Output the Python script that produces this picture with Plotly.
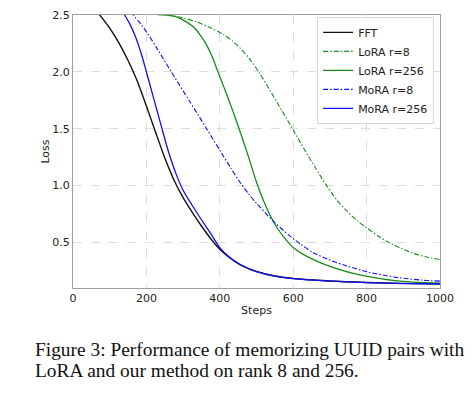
import plotly.graph_objects as go

# Data
fft_steps = [50, 73, 100, 125, 150, 163, 175, 200, 225, 250, 275, 300, 325, 350, 375, 400, 425, 450, 475, 500, 550, 600, 700, 800, 900, 1000]
fft_loss = [2.6, 2.5, 2.385, 2.255, 2.10, 2.01, 1.92, 1.70, 1.47, 1.245, 1.05, 0.895, 0.765, 0.645, 0.535, 0.44, 0.37, 0.315, 0.275, 0.245, 0.205, 0.184, 0.162, 0.149, 0.141, 0.137]

lora8_steps = [200, 230, 255, 300, 336, 370, 409, 435, 455, 482, 509, 540, 570, 600, 630, 660, 691, 720, 745, 775, 802, 835, 864, 900, 927, 960, 1000]
lora8_loss = [2.51, 2.503, 2.5, 2.475, 2.44, 2.395, 2.33, 2.27, 2.21, 2.11, 1.985, 1.82, 1.655, 1.49, 1.32, 1.16, 1.0, 0.87, 0.78, 0.69, 0.625, 0.55, 0.495, 0.44, 0.405, 0.375, 0.35]

lora256_steps = [200, 230, 255, 280, 309, 330, 345, 360, 377, 395, 410, 427, 445, 460, 480, 500, 520, 540, 560, 580, 600, 625, 655, 700, 745, 802, 882, 1000]
lora256_loss = [2.51, 2.505, 2.5, 2.485, 2.44, 2.39, 2.33, 2.26, 2.15, 2.0, 1.875, 1.73, 1.57, 1.43, 1.235, 1.03, 0.86, 0.72, 0.61, 0.525, 0.456, 0.40, 0.35, 0.29, 0.245, 0.202, 0.163, 0.142]

mora8_steps = [140, 164, 185, 205, 230, 264, 318, 364, 402, 430, 455, 478, 500, 545, 590, 620, 655, 700, 745, 802, 882, 950, 1000]
mora8_loss = [2.6, 2.5, 2.42, 2.33, 2.2, 2.02, 1.74, 1.5, 1.3, 1.155, 1.03, 0.93, 0.845, 0.69, 0.56, 0.485, 0.41, 0.345, 0.295, 0.242, 0.193, 0.17, 0.16]

mora256_steps = [120, 141, 155, 170, 185, 200, 220, 240, 260, 280, 300, 325, 350, 375, 400, 425, 450, 475, 500, 550, 600, 700, 800, 900, 1000]
mora256_loss = [2.64, 2.5, 2.42, 2.31, 2.17, 2.0, 1.765, 1.53, 1.3, 1.11, 0.96, 0.825, 0.70, 0.58, 0.455, 0.375, 0.318, 0.276, 0.245, 0.204, 0.182, 0.16, 0.147, 0.139, 0.135]

x_ticks = [0, 200, 400, 600, 800, 1000]
y_ticks = [0.5, 1.0, 1.5, 2.0, 2.5]

caption_lines = ["Figure 3: Performance of memorizing UUID pairs with",
                 "LoRA and our method on rank 8 and 256."]

DASHDOT = "5px,2px,1.5px,2px"
fig = go.Figure()
fig.add_trace(go.Scatter(x=fft_steps, y=fft_loss, mode="lines", name="FFT",
                         line=dict(color="#111111", width=1.4, shape="spline", smoothing=0.8)))
fig.add_trace(go.Scatter(x=lora8_steps, y=lora8_loss, mode="lines", name="LoRA r=8",
                         line=dict(color="#1a8a1a", width=1.1, dash=DASHDOT, shape="spline", smoothing=0.8)))
fig.add_trace(go.Scatter(x=lora256_steps, y=lora256_loss, mode="lines", name="LoRA r=256",
                         line=dict(color="#1a8a1a", width=1.3, shape="spline", smoothing=0.8)))
fig.add_trace(go.Scatter(x=mora8_steps, y=mora8_loss, mode="lines", name="MoRA r=8",
                         line=dict(color="#1010ee", width=1.1, dash=DASHDOT, shape="spline", smoothing=0.8)))
fig.add_trace(go.Scatter(x=mora256_steps, y=mora256_loss, mode="lines", name="MoRA r=256",
                         line=dict(color="#1010ee", width=1.3, shape="spline", smoothing=0.8)))

axis_common = dict(showline=True, linecolor="#a0a0a0", linewidth=1, mirror=True,
                   showgrid=True, gridcolor="#dcdcdc", griddash="dash", gridwidth=1,
                   zeroline=False, ticks="", tickfont=dict(family="DejaVu Sans", size=11, color="#222"))

fig.update_xaxes(range=[0, 1000], tickvals=x_ticks, ticktext=[str(v) for v in x_ticks],
                 title=dict(text="Steps", font=dict(family="DejaVu Sans", size=11, color="#222"), standoff=2),
                 **axis_common)
fig.update_yaxes(range=[0.1, 2.5], tickvals=y_ticks, ticktext=[f"{v:.1f}" for v in y_ticks],
                 title=dict(text="Loss", font=dict(family="DejaVu Sans", size=11, color="#222"), standoff=0),
                 **axis_common)

# page body has an 8px margin, so the figure is sized/offset to compensate
fig.update_layout(
    width=466, height=390,
    margin=dict(l=65, r=34, t=7, b=110, autoexpand=False),
    plot_bgcolor="white", paper_bgcolor="white",
    showlegend=True,
    legend=dict(x=0.984, y=0.993, xanchor="right", yanchor="top",
                bgcolor="rgba(255,255,255,0.85)", bordercolor="#d8d8d8", borderwidth=1,
                font=dict(family="DejaVu Sans", size=11, color="#222"),
                itemwidth=30, tracegroupgap=0),
    annotations=[
        dict(text=caption_lines[0], xref="paper", yref="paper", x=-0.109, y=-0.224,
             xanchor="left", yanchor="middle", align="left", showarrow=False,
             font=dict(family="Liberation Serif", size=19.4, color="#111")),
        dict(text=caption_lines[1], xref="paper", yref="paper", x=-0.109, y=-0.304,
             xanchor="left", yanchor="middle", align="left", showarrow=False,
             font=dict(family="Liberation Serif", size=19.4, color="#111")),
    ],
)

fig.write_html("out.html")
